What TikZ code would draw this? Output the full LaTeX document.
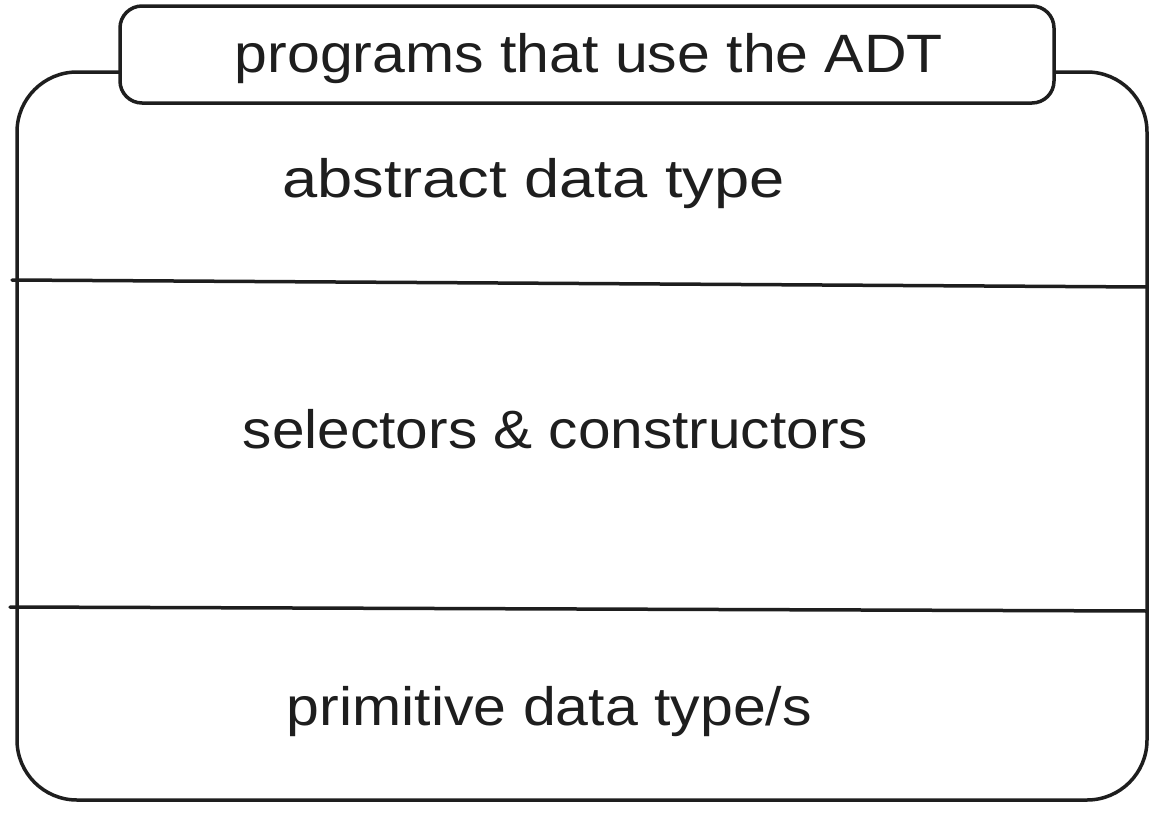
\documentclass[tikz,border=0pt]{standalone}
\usepackage{fontspec}
\usepackage{graphicx}
\setmainfont{Liberation Sans}
\definecolor{ink}{HTML}{1E1E1E}
\newcommand{\fitw}[2]{\resizebox{#1}{\height}{#2}}
\begin{document}
\begin{tikzpicture}[x=1pt,y=-1pt,
  outline/.style={draw=ink,line width=3.5pt,line cap=round,line join=round},
  label/.style={text=ink,font=\fontsize{54}{60}\selectfont,inner sep=0pt,anchor=base}]
\useasboundingbox[fill=white] (0,0) rectangle (1160,814);
% outer container
\draw[outline,rounded corners=60pt] (17,72) rectangle (1147,800);
% layer dividers
\coordinate (d1l) at (12,280);
\coordinate (d1r) at (1147,287);
\coordinate (d2l) at (10,607);
\coordinate (d2r) at (1147,611);
\draw[outline] (d1l) -- (d1r);
\draw[outline] (d2l) -- (d2r);
% top box
\draw[outline,fill=white,rounded corners=22pt] (120,6) rectangle (1054,103);
% labels
\node[label] (top) at (589,72) {\fitw{708pt}{programs that use the ADT}};
\node[label] (adt) at (533.5,197) {\fitw{503pt}{abstract data type}};
\node[label] (sel) at (555.5,448) {\fitw{625pt}{selectors \& constructors}};
\node[label] (prim) at (549.5,725) {\fitw{525pt}{primitive data type/s}};
\end{tikzpicture}
\end{document}
